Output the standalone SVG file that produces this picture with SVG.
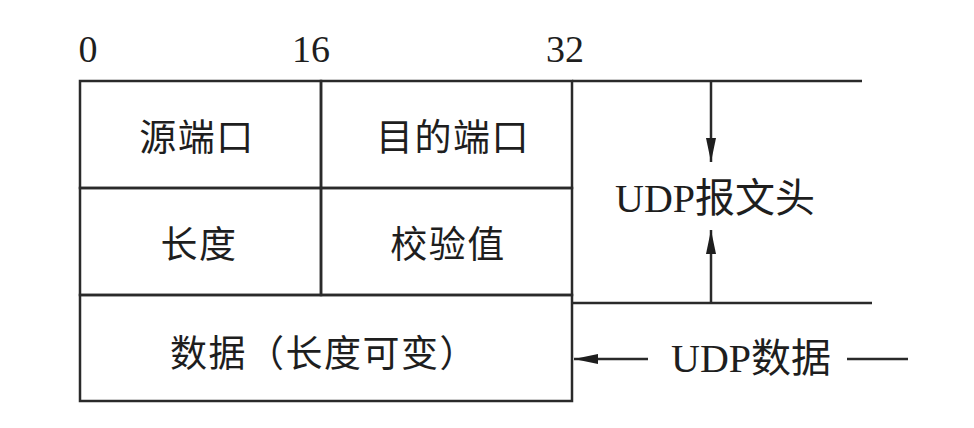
<svg xmlns="http://www.w3.org/2000/svg" width="974" height="428" viewBox="0 0 974 428">
<defs>
<style>
.ln{stroke:#2a2a2a;stroke-width:2.5;fill:none}
.t{font-family:"Liberation Serif","Noto Sans CJK SC",serif;fill:#1e1e1e}
.cj{font-size:37px;letter-spacing:1.5px;text-anchor:middle}
.num{font-size:38px;text-anchor:middle}
.lab{font-size:40px}
</style>
<marker id="ah" viewBox="0 0 24 10" refX="24" refY="5" markerWidth="24" markerHeight="10" markerUnits="userSpaceOnUse" orient="auto">
<path d="M0,0 L24,5 L0,10 Z" fill="#1e1e1e"/>
</marker>
</defs>
<rect width="974" height="428" fill="#ffffff"/>
<g id="scale">
<text class="t num" x="88" y="62">0</text>
<text class="t num" x="311" y="62">16</text>
<text class="t num" x="565" y="62">32</text>
</g>
<g id="src-port">
<rect class="ln" x="80" y="81" width="241" height="107"/>
<text class="t cj" x="197" y="151">源端口</text>
</g>
<g id="dst-port">
<rect class="ln" x="321" y="81" width="251" height="107"/>
<text class="t cj" x="453" y="151">目的端口</text>
</g>
<g id="length">
<rect class="ln" x="80" y="188" width="241" height="107"/>
<text class="t cj" x="199" y="258">长度</text>
</g>
<g id="checksum">
<rect class="ln" x="321" y="188" width="251" height="107"/>
<text class="t cj" x="448" y="258">校验值</text>
</g>
<g id="data">
<rect class="ln" x="80" y="295" width="492" height="106"/>
<text class="t cj" x="324" y="367">数据（长度可变）</text>
</g>
<g id="udp-header-label">
<text class="t lab" x="615" y="212">UDP报文头</text>
</g>
<g id="udp-data-label">
<text class="t lab" x="671" y="372">UDP数据</text>
</g>
<g id="connectors">
<line class="ln" x1="572" y1="81" x2="862" y2="81"/>
<line class="ln" x1="572" y1="303" x2="872" y2="303"/>
<line class="ln" x1="711" y1="81" x2="711" y2="162" marker-end="url(#ah)"/>
<line class="ln" x1="711" y1="303" x2="711" y2="230" marker-end="url(#ah)"/>
<line class="ln" x1="648" y1="359" x2="574" y2="359" marker-end="url(#ah)"/>
<line class="ln" x1="847" y1="359" x2="908" y2="359"/>
</g>
</svg>
